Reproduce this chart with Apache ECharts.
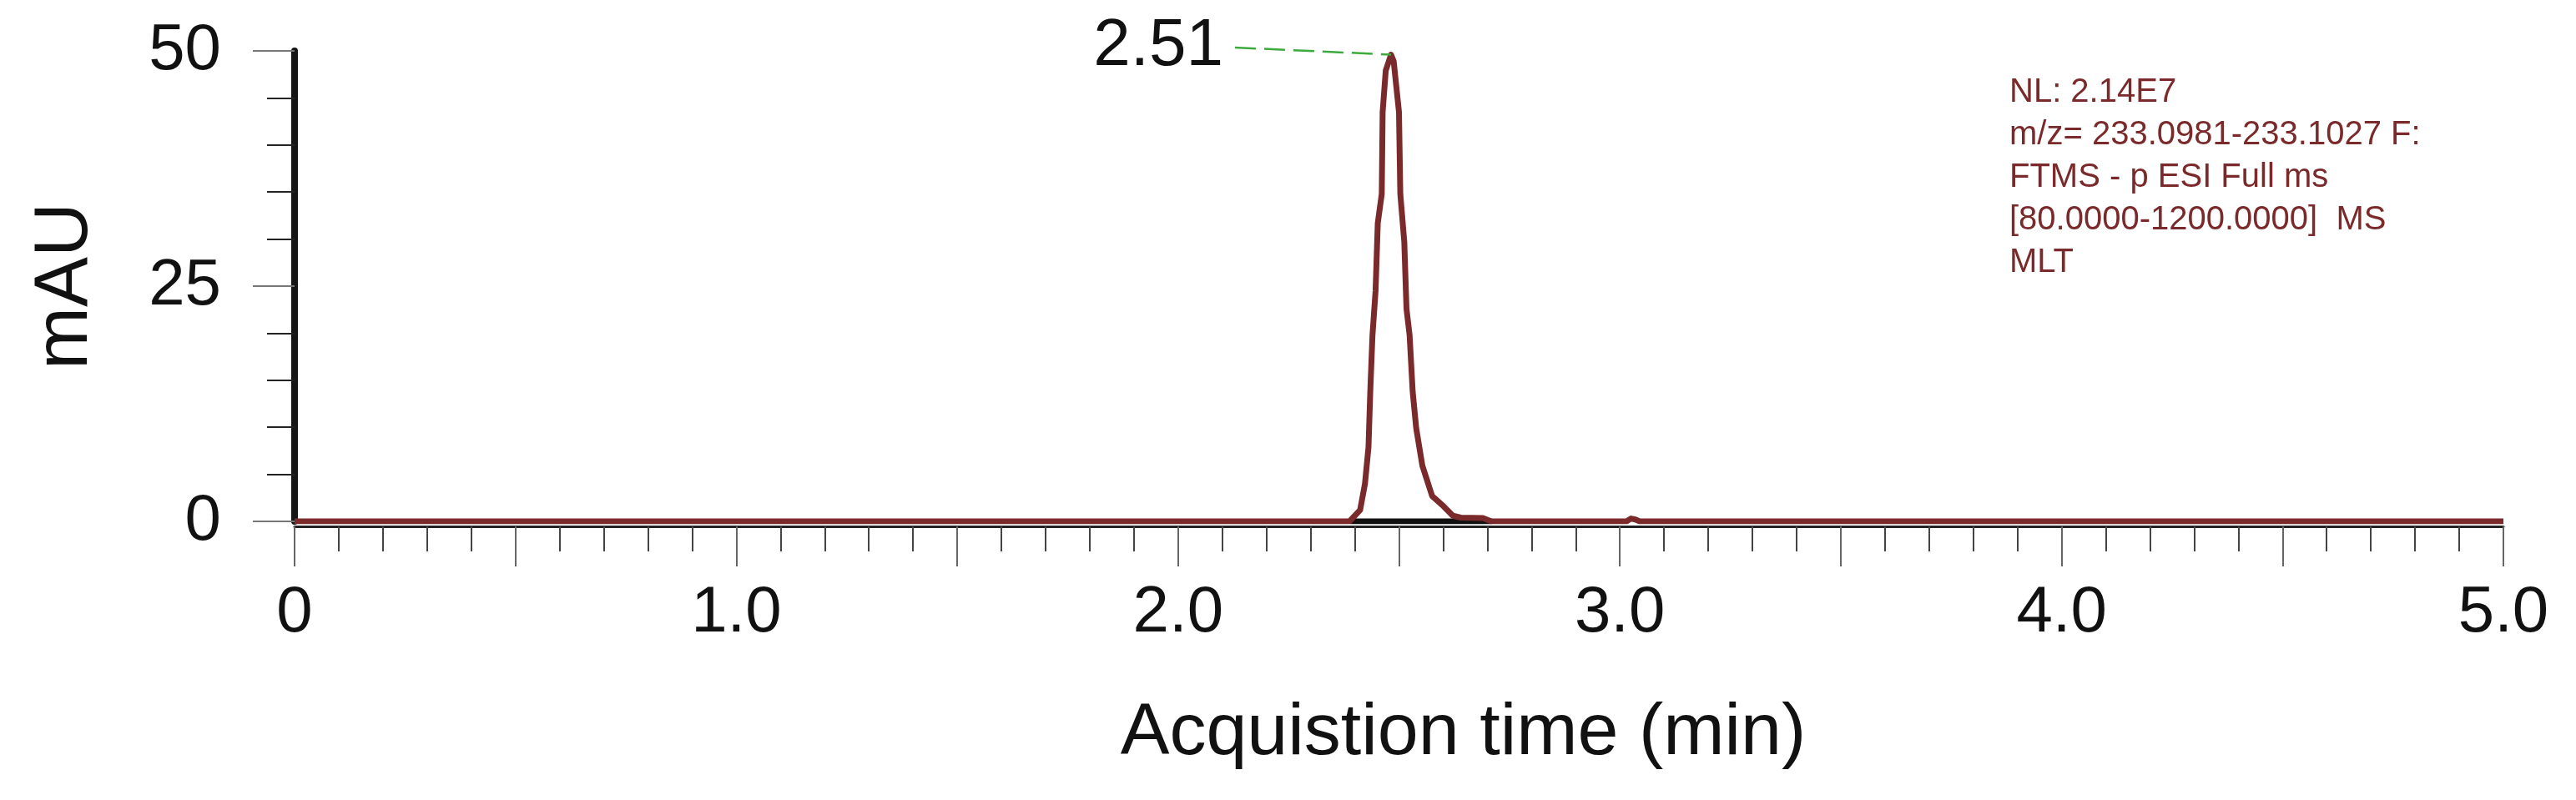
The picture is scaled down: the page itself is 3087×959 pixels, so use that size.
<!DOCTYPE html>
<html>
<head>
<meta charset="utf-8">
<script src="https://cdn.jsdelivr.net/npm/echarts@6/dist/echarts.min.js"></script>
<style>
html,body{margin:0;padding:0;background:#fff;}
#chart{width:3087px;height:959px;}
</style>
</head>
<body>
<div id="chart"></div>
<script>
// ---- data ----
const times = [0, 2.388, 2.412, 2.423, 2.431, 2.435, 2.440, 2.447, 2.452, 2.461, 2.463, 2.470, 2.482, 2.488, 2.500, 2.503, 2.512, 2.517, 2.524, 2.531, 2.539, 2.553, 2.575, 2.601, 2.622, 2.640, 2.690, 2.709, 3.015, 3.025, 3.035, 3.045, 5.0];
const intensity = [0, 0, 1.2, 4.0, 7.9, 13.8, 19.8, 24.5, 31.7, 34.8, 43.5, 47.9, 49.6, 48.9, 43.5, 34.8, 29.7, 22.6, 19.8, 13.8, 9.9, 5.9, 2.7, 1.6, 0.6, 0.4, 0.35, 0, 0, 0.3, 0.2, 0, 0];
const integrationStart = [2.39, 0];
const integrationEnd = [2.71, 0];
const peakLabel = '2.51';
const xTickLabels = ['0', '1.0', '2.0', '3.0', '4.0', '5.0'];
const yTicks = [0, 25, 50];
const infoLines = ['NL: 2.14E7', 'm/z= 233.0981-233.1027 F:', 'FTMS - p ESI Full ms', '[80.0000-1200.0000]  MS', 'MLT'];

const traceData = times.map((t, i) => [t, intensity[i]]);
let peakIdx = 0;
intensity.forEach((v, i) => { if (v > intensity[peakIdx]) peakIdx = i; });

const FONT = '"Liberation Sans", Arial, Helvetica, sans-serif';
const RED = '#7b2a2b';

const chart = echarts.init(document.getElementById('chart'));
chart.setOption({
  animation: false,
  backgroundColor: '#fff',
  title: {
    text: infoLines.join('\n'),
    left: 2403,
    top: 80,
    textStyle: { fontFamily: FONT, fontSize: 40, lineHeight: 51, fontWeight: 'normal', color: RED }
  },
  grid: { left: 353, right: 87, top: 61, bottom: 334 },
  xAxis: {
    type: 'value', min: 0, max: 5, interval: 0.5,
    offset: 6,
    name: 'Acquistion time (min)', nameLocation: 'middle', nameGap: 205,
    nameTextStyle: { fontFamily: FONT, fontSize: 88, color: '#111', padding: [0, 0, 0, 154] },
    axisLine: { onZero: false, lineStyle: { color: '#222', width: 3 } },
    axisTick: { length: 48, lineStyle: { color: '#666', width: 2 } },
    minorTick: { show: true, splitNumber: 5, length: 30, lineStyle: { color: '#444', width: 2 } },
    splitLine: { show: false },
    axisLabel: {
      fontFamily: FONT, fontSize: 78, color: '#111', margin: 65,
      showMinLabel: true, showMaxLabel: true,
      formatter: v => { const k = Math.round(v * 2); return (k % 2 === 0) ? xTickLabels[k / 2] : ''; }
    }
  },
  yAxis: {
    type: 'value', min: yTicks[0], max: yTicks[yTicks.length - 1], interval: 25,
    name: 'mAU', nameLocation: 'middle', nameGap: 229,
    nameTextStyle: { fontFamily: FONT, fontSize: 90, color: '#111' },
    axisLine: { show: true, onZero: false, lineStyle: { color: '#151515', width: 8 } },
    axisTick: { show: true, length: 50, lineStyle: { color: '#777', width: 2 } },
    minorTick: { show: true, splitNumber: 5, length: 33, lineStyle: { color: '#222', width: 2 } },
    splitLine: { show: false },
    axisLabel: { fontFamily: FONT, fontSize: 78, color: '#111', margin: 88, padding: [16, 0, 0, 0] }
  },
  series: [
    {
      type: 'line', data: [integrationStart, integrationEnd], showSymbol: false, z: 2,
      lineStyle: { color: '#111', width: 7 }, silent: true
    },
    {
      type: 'line', data: traceData, showSymbol: false, z: 3,
      lineStyle: { color: RED, width: 7, join: 'round' },
      markLine: {
        silent: true, symbol: ['none', 'none'],
        lineStyle: { color: '#3daa3d', width: 2.5, type: [25, 10] },
        label: { show: true, position: 'start', distance: 14, formatter: peakLabel,
                 fontFamily: FONT, fontSize: 80, color: '#111' },
        data: [[ { x: 1480, y: 57 }, { coord: traceData[peakIdx] } ]]
      }
    }
  ]
});
</script>
</body>
</html>
